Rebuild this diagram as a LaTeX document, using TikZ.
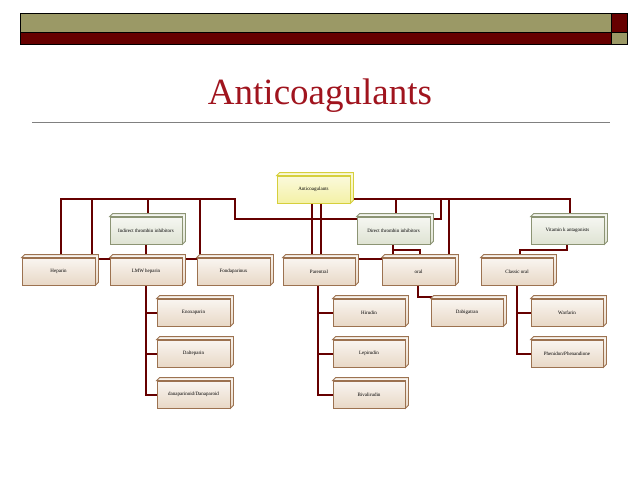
\documentclass[tikz,border=0pt]{standalone}
\usepackage{fontspec}
\setmainfont{Liberation Serif}
\definecolor{dred}{HTML}{660000}
\definecolor{olv}{HTML}{9B9966}
\definecolor{ttl}{HTML}{A0141E}
\definecolor{brb}{HTML}{9C7250}
\definecolor{brf}{HTML}{E8D8C6}
\definecolor{grb}{HTML}{8C9474}
\definecolor{grf}{HTML}{DFE3D3}
\definecolor{yeb}{HTML}{D6CF3C}
\definecolor{yef}{HTML}{F4F1A6}
\tikzset{
 bbox/.style={draw=brb,line width=0.8pt,top color=brf!25,bottom color=brf,font=\fontsize{5}{6}\selectfont,inner sep=0pt},
 gbox/.style={bbox,draw=grb,top color=grf!30,bottom color=grf},
 ybox/.style={bbox,draw=yeb,top color=yef!40,bottom color=yef},
 conn/.style={draw=dred,line width=2pt},
 thin/.style={draw=brb,line width=1pt}
}
\newcommand\bx[7]{%
 \node[#7,minimum width=#4-#2,minimum height=#5-#3] (#1) at ({(#2+#4)/2},{(#3+#5)/2}) {#6};
 \path[#7] (#1.north west) -- ++(3,-3) -- ([shift={(3,-3)}]#1.north east) -- ([shift={(3,-3)}]#1.south east) -- (#1.south east) -- (#1.north east) -- cycle;
}
\begin{document}
\begin{tikzpicture}[x=1pt,y=-1pt]
\useasboundingbox (0,0) rectangle (638,479);
\fill[white] (0,0) rectangle (638,479);
% banner
\draw[fill=olv,line width=0.7pt] (20,13) rectangle (611,32);
\draw[fill=dred,line width=0.7pt] (20,32) rectangle (611,44);
\draw[fill=dred,line width=0.7pt] (611,13) rectangle (627,32);
\draw[fill=olv,line width=0.7pt] (611,32) rectangle (627,44);
\node[text=ttl,font=\fontsize{37}{40}\selectfont] (title) at (320,96) {Anticoagulants};
\draw[gray,line width=0.8pt] (32,122) -- (610,122);
% connectors (drawn first)
\coordinate (a1) at (61,199); \coordinate (a2) at (235,199);
\draw[conn] (61,258) -- (61,199) -- (235,199) -- (235,219) -- (441,219) -- (441,199);
\draw[conn] (92,258) -- (92,199);
\draw[conn] (148,217) -- (148,199);
\draw[conn] (200,258) -- (200,199);
\draw[conn] (92,259) -- (200,259);
\draw[conn] (312,203) -- (312,258);
\draw[conn] (321,258) -- (321,199) -- (570,199) -- (570,217);
\draw[conn] (396,217) -- (396,199);
\draw[conn] (449,258) -- (449,199);
\draw[conn] (312,259) -- (449,259);
\draw[conn] (146,244) -- (146,258);
\draw[conn] (393,244) -- (393,258);
\draw[conn] (393,250) -- (420,250) -- (420,258);
\draw[conn] (567,244) -- (567,250) -- (520,250) -- (520,258);
\draw[conn] (146,285) -- (146,395) -- (157,395);
\draw[conn] (146,313) -- (157,313); \draw[conn] (146,354) -- (157,354);
\draw[conn] (318,285) -- (318,395) -- (333,395);
\draw[conn] (318,313) -- (333,313); \draw[conn] (318,354) -- (333,354);
\draw[conn] (418,285) -- (418,297) -- (432,297);
\draw[thin] (432,297) -- (432,313);
\draw[conn] (517,285) -- (517,354) -- (531,354);
\draw[conn] (517,313) -- (531,313);
% boxes
\bx{root}{277}{176}{350}{203}{Anticoagulants}{ybox}
\bx{ind}{110}{217}{182}{244}{Indirect thrombin inhibitors}{gbox}
\bx{dir}{357}{217}{430}{244}{Direct thrombin inhibitors}{gbox}
\bx{vit}{531}{217}{604}{244}{Vitamin k antagonists}{gbox}
\bx{hep}{22}{258}{95}{285}{Heparin}{bbox}
\bx{lmw}{110}{258}{182}{285}{LMW heparin}{bbox}
\bx{fon}{197}{258}{270}{285}{Fondaparinux}{bbox}
\bx{par}{283}{258}{355}{285}{Parentral}{bbox}
\bx{ora}{382}{258}{455}{285}{oral}{bbox}
\bx{cla}{481}{258}{553}{285}{Classic oral}{bbox}
\bx{eno}{157}{299}{230}{326}{Enoxaparin}{bbox}
\bx{hir}{333}{299}{405}{326}{Hirudin}{bbox}
\bx{dab}{431}{299}{503}{326}{Dabigatran}{bbox}
\bx{war}{531}{299}{603}{326}{Warfarin}{bbox}
\bx{dal}{157}{340}{230}{367}{Dalteparin}{bbox}
\bx{lep}{333}{340}{405}{367}{Lepirudin}{bbox}
\bx{phe}{531}{340}{603}{367}{Phenidon/Phenandione}{bbox}
\bx{dan}{157}{381}{230}{408}{danaparinoid/Danaparoid}{bbox}
\bx{biv}{333}{381}{405}{408}{Bivalirudin}{bbox}
\end{tikzpicture}
\end{document}
